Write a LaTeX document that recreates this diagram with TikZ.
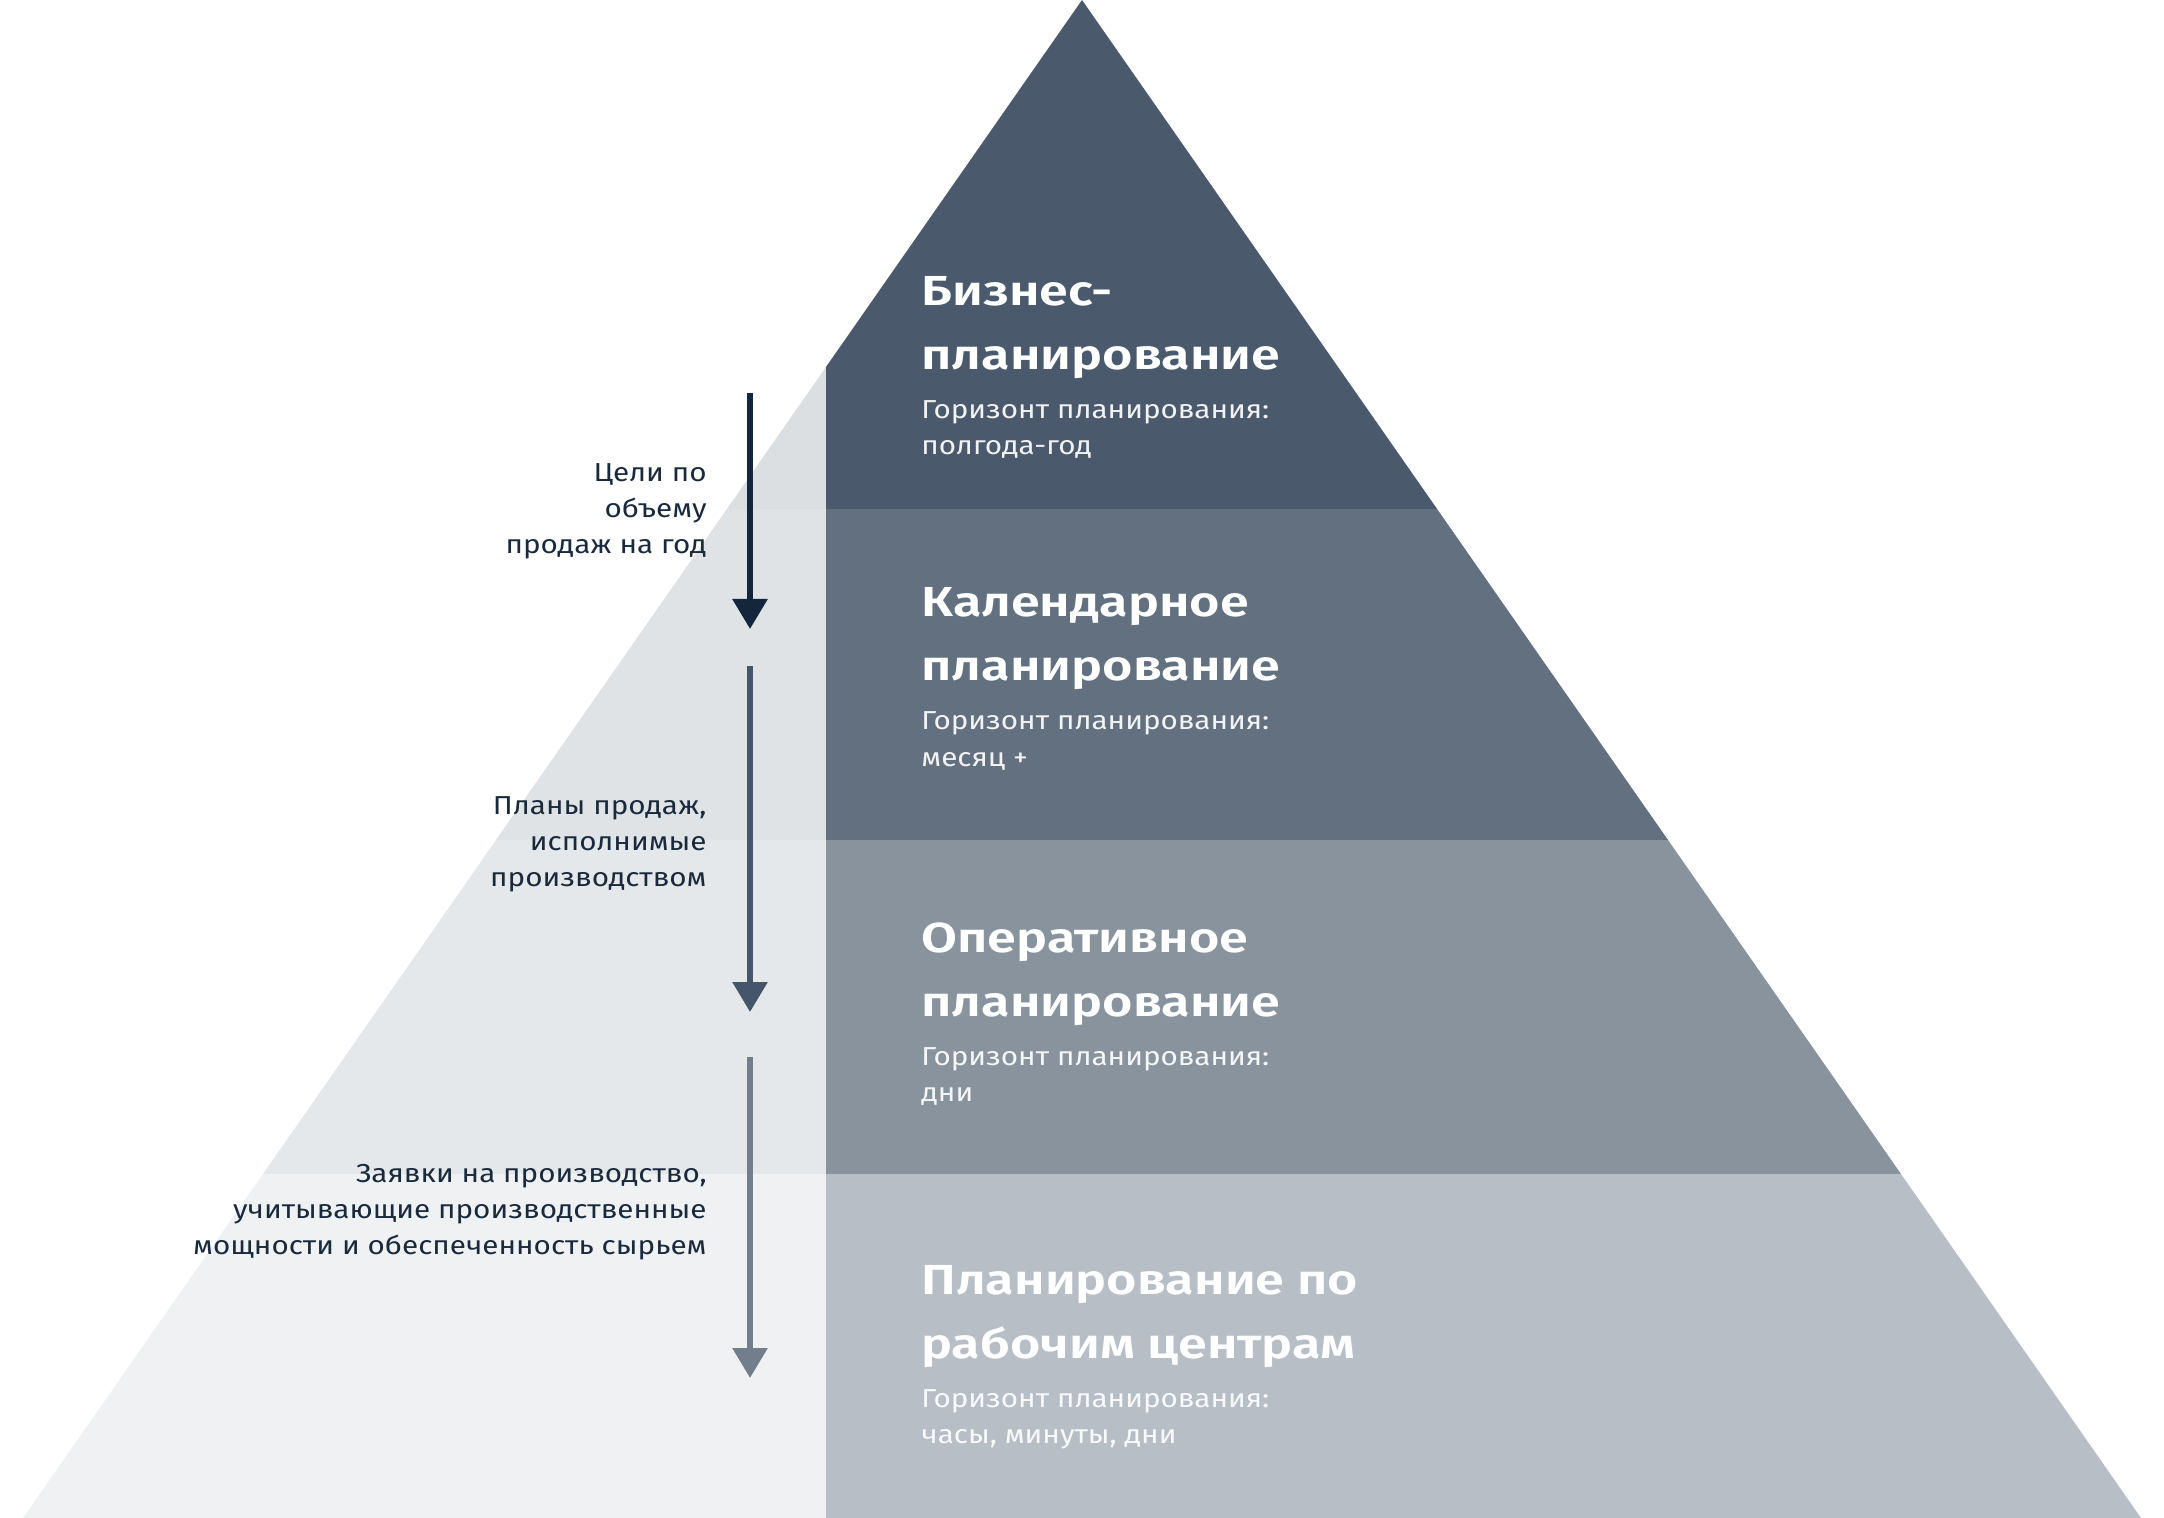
\documentclass[tikz,border=0pt]{standalone}
\usepackage{fontspec}
\setmainfont{Fira Sans}
\newfontfamily\subfont{Fira Sans}[FakeStretch=1.14]
\IfFontExistsTF{Fira Sans SemiBold}
  {\newfontfamily\titlefont{Fira Sans SemiBold}[FakeStretch=1.24]}
  {\newfontfamily\titlefont{Fira Sans Bold}[FakeStretch=1.22]}
\usetikzlibrary{arrows.meta}
\definecolor{bandA}{HTML}{4A5A6C}
\definecolor{bandB}{HTML}{627080}
\definecolor{bandC}{HTML}{89939E}
\definecolor{bandD}{HTML}{B7BEC6}
\definecolor{leftA}{HTML}{DCDFE2}
\definecolor{leftB}{HTML}{E0E3E6}
\definecolor{leftC}{HTML}{E5E8EA}
\definecolor{leftD}{HTML}{EFF1F3}
\definecolor{arrA}{HTML}{13263B}
\definecolor{arrB}{HTML}{45556A}
\definecolor{arrC}{HTML}{727E8C}
\definecolor{labelcol}{HTML}{1A2A3C}
\tikzset{
  title/.style={anchor=base west, inner sep=0pt, text=white, font=\titlefont\fontsize{21}{24}\selectfont},
  sub/.style={anchor=base west, inner sep=0pt, text=white, text opacity=0.92, font=\subfont\fontsize{13}{16}\selectfont},
  lbl/.style={anchor=base east, inner sep=0pt, text=labelcol, font=\subfont\fontsize{13}{16}\selectfont},
  flow/.style={line width=3pt, -{Triangle[width=17pt,length=15pt]}}
}
\begin{document}
\begin{tikzpicture}[x=0.5pt,y=-0.5pt]
\useasboundingbox (0,0) rectangle (2164,1518);
\begin{scope}
\clip (1082,0) -- (2141,1518) -- (23,1518) -- cycle;
\fill[leftA] (0,0) rectangle (826,509);
\fill[leftB] (0,509) rectangle (826,840);
\fill[leftC] (0,840) rectangle (826,1174);
\fill[leftD] (0,1174) rectangle (826,1518);
\fill[bandA] (826,0) rectangle (2164,509);
\fill[bandB] (826,509) rectangle (2164,840);
\fill[bandC] (826,840) rectangle (2164,1174);
\fill[bandD] (826,1174) rectangle (2164,1518);
\end{scope}

% band texts
\node[title] (t1a) at (921,306) {Бизнес-};
\node[title] (t1b) at (921,370) {планирование};
\node[sub] (s1a) at (921,419) {Горизонт планирования:};
\node[sub] (s1b) at (921,455) {полгода-год};

\node[title] (t2a) at (921,617) {Календарное};
\node[title] (t2b) at (921,681) {планирование};
\node[sub] (s2a) at (921,730) {Горизонт планирования:};
\node[sub] (s2b) at (921,766) {месяц +};

\node[title] (t3a) at (921,952) {Оперативное};
\node[title] (t3b) at (921,1016) {планирование};
\node[sub] (s3a) at (921,1065) {Горизонт планирования:};
\node[sub] (s3b) at (921,1101) {дни};

\node[title] (t4a) at (921,1294) {Планирование по};
\node[title] (t4b) at (921,1358) {рабочим центрам};
\node[sub] (s4a) at (921,1407) {Горизонт планирования:};
\node[sub] (s4b) at (921,1443) {часы, минуты, дни};

% flow labels
\node[lbl] (l1a) at (707,482) {Цели по};
\node[lbl] (l1b) at (707,518) {объему};
\node[lbl] (l1c) at (707,554) {продаж на год};

\node[lbl] (l2a) at (707,814) {Планы продаж,};
\node[lbl] (l2b) at (707,850) {исполнимые};
\node[lbl] (l2c) at (707,886) {производством};

\node[lbl] (l3a) at (707,1182) {Заявки на производство,};
\node[lbl] (l3b) at (707,1218) {учитывающие производственные};
\node[lbl] (l3c) at (707,1254) {мощности и обеспеченность сырьем};

% arrows
\coordinate (a1s) at (750,393);
\coordinate (a1e) at (750,629);
\coordinate (a2s) at (750,666);
\coordinate (a2e) at (750,1012);
\coordinate (a3s) at (750,1057);
\coordinate (a3e) at (750,1378);
\draw[flow, arrA] (a1s) -- (a1e);
\draw[flow, arrB] (a2s) -- (a2e);
\draw[flow, arrC] (a3s) -- (a3e);
\end{tikzpicture}
\end{document}
